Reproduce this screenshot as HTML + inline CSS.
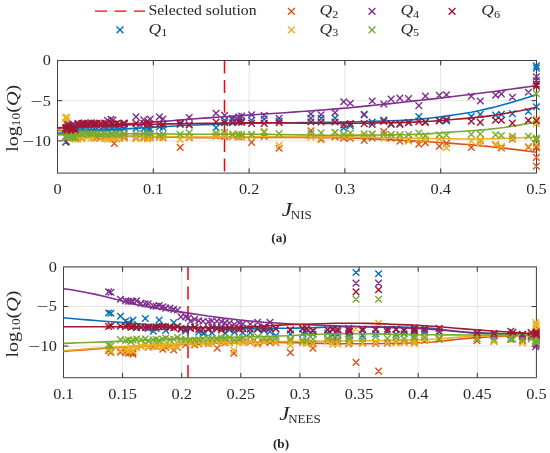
<!DOCTYPE html>
<html><head><meta charset="utf-8"><title>Figure</title>
<style>
html,body{margin:0;padding:0;background:#fff}
svg{display:block}
text{font-family:"Liberation Serif","DejaVu Serif",serif;fill:#262626}
</style></head><body>
<svg width="550" height="453" viewBox="0 0 550 453">
<rect width="550" height="453" fill="#ffffff"/>
<g font-size="14.6">
<path d="M95 11.2H145" stroke="#ff0000" stroke-width="1.3" stroke-dasharray="12 7.5" fill="none"/>
<text x="148.6" y="15.2" font-size="15.2" textLength="108" lengthAdjust="spacingAndGlyphs">Selected solution</text>
<path d="M116.6 26.4l6.8 6.8m0 -6.8l-6.8 6.8" stroke="#0072BD" stroke-width="1.4" fill="none"/>
<text transform="translate(148.5 33.6) scale(1.13 1)" font-size="15.5"><tspan font-style="italic">Q</tspan><tspan font-size="10.8" dy="2.6">1</tspan></text>
<path d="M288.0 8.0l6.8 6.8m0 -6.8l-6.8 6.8" stroke="#D95319" stroke-width="1.4" fill="none"/>
<text transform="translate(319.6 15.2) scale(1.13 1)" font-size="15.5"><tspan font-style="italic">Q</tspan><tspan font-size="10.8" dy="2.6">2</tspan></text>
<path d="M288.0 26.4l6.8 6.8m0 -6.8l-6.8 6.8" stroke="#EDB120" stroke-width="1.4" fill="none"/>
<text transform="translate(319.6 33.6) scale(1.13 1)" font-size="15.5"><tspan font-style="italic">Q</tspan><tspan font-size="10.8" dy="2.6">3</tspan></text>
<path d="M368.6 8.0l6.8 6.8m0 -6.8l-6.8 6.8" stroke="#7E2F8E" stroke-width="1.4" fill="none"/>
<text transform="translate(400.4 15.2) scale(1.13 1)" font-size="15.5"><tspan font-style="italic">Q</tspan><tspan font-size="10.8" dy="2.6">4</tspan></text>
<path d="M368.6 26.4l6.8 6.8m0 -6.8l-6.8 6.8" stroke="#77AC30" stroke-width="1.4" fill="none"/>
<text transform="translate(400.4 33.6) scale(1.13 1)" font-size="15.5"><tspan font-style="italic">Q</tspan><tspan font-size="10.8" dy="2.6">5</tspan></text>
<path d="M448.7 8.0l6.8 6.8m0 -6.8l-6.8 6.8" stroke="#A2142F" stroke-width="1.4" fill="none"/>
<text transform="translate(481.3 15.2) scale(1.13 1)" font-size="15.5"><tspan font-style="italic">Q</tspan><tspan font-size="10.8" dy="2.6">6</tspan></text>
<path d="M57.5 60.5V173.1M153.3 60.5V173.1M249.1 60.5V173.1M344.9 60.5V173.1M440.7 60.5V173.1M536.5 60.5V173.1M57.5 60.5H536.5M57.5 100.7H536.5M57.5 140.9H536.5" stroke="#e4e4e4" stroke-width="1" fill="none"/>
<clipPath id="ca"><rect x="53.5" y="56.5" width="487.0" height="120.6"/></clipPath>
<path d="M224.5 60.5V173.1" stroke="#ff0000" stroke-width="1.5" stroke-dasharray="13 6.6" fill="none"/>
<path d="M153.3 173.1v-4.8M153.3 60.5v4.8M249.1 173.1v-4.8M249.1 60.5v4.8M344.9 173.1v-4.8M344.9 60.5v4.8M440.7 173.1v-4.8M440.7 60.5v4.8M57.5 100.7h4.8M536.5 100.7h-4.8M57.5 140.9h4.8M536.5 140.9h-4.8" stroke="#333333" stroke-width="1" fill="none"/><rect x="57.5" y="60.5" width="479.0" height="112.6" fill="none" stroke="#404040" stroke-width="1"/>
<g clip-path="url(#ca)">
<path d="M62.3 127.4l6.6 6.6m0 -6.6l-6.6 6.6M63.0 127.4l6.6 6.6m0 -6.6l-6.6 6.6M63.7 128.9l6.6 6.6m0 -6.6l-6.6 6.6M64.5 128.7l6.6 6.6m0 -6.6l-6.6 6.6M65.3 127.1l6.6 6.6m0 -6.6l-6.6 6.6M66.2 128.2l6.6 6.6m0 -6.6l-6.6 6.6M67.2 126.8l6.6 6.6m0 -6.6l-6.6 6.6M68.2 126.6l6.6 6.6m0 -6.6l-6.6 6.6M69.5 125.9l6.6 6.6m0 -6.6l-6.6 6.6M70.9 126.7l6.6 6.6m0 -6.6l-6.6 6.6M72.1 128.8l6.6 6.6m0 -6.6l-6.6 6.6M74.7 124.4l6.6 6.6m0 -6.6l-6.6 6.6M78.5 125.2l6.6 6.6m0 -6.6l-6.6 6.6M81.1 124.9l6.6 6.6m0 -6.6l-6.6 6.6M84.5 125.5l6.6 6.6m0 -6.6l-6.6 6.6M87.7 125.4l6.6 6.6m0 -6.6l-6.6 6.6M90.8 125.5l6.6 6.6m0 -6.6l-6.6 6.6M93.7 125.4l6.6 6.6m0 -6.6l-6.6 6.6M97.4 125.4l6.6 6.6m0 -6.6l-6.6 6.6M101.3 125.0l6.6 6.6m0 -6.6l-6.6 6.6M104.2 124.8l6.6 6.6m0 -6.6l-6.6 6.6M107.6 125.0l6.6 6.6m0 -6.6l-6.6 6.6M109.7 124.7l6.6 6.6m0 -6.6l-6.6 6.6M113.1 125.1l6.6 6.6m0 -6.6l-6.6 6.6M116.4 125.7l6.6 6.6m0 -6.6l-6.6 6.6M120.4 124.9l6.6 6.6m0 -6.6l-6.6 6.6M121.1 125.3l6.6 6.6m0 -6.6l-6.6 6.6M132.7 125.2l6.6 6.6m0 -6.6l-6.6 6.6M140.5 125.7l6.6 6.6m0 -6.6l-6.6 6.6M144.3 125.1l6.6 6.6m0 -6.6l-6.6 6.6M146.9 125.9l6.6 6.6m0 -6.6l-6.6 6.6M156.1 123.7l6.6 6.6m0 -6.6l-6.6 6.6M159.7 124.2l6.6 6.6m0 -6.6l-6.6 6.6M176.9 121.2l6.6 6.6m0 -6.6l-6.6 6.6M185.9 121.7l6.6 6.6m0 -6.6l-6.6 6.6M212.8 124.5l6.6 6.6m0 -6.6l-6.6 6.6M221.3 117.2l6.6 6.6m0 -6.6l-6.6 6.6M229.3 116.5l6.6 6.6m0 -6.6l-6.6 6.6M235.4 117.2l6.6 6.6m0 -6.6l-6.6 6.6M238.3 117.7l6.6 6.6m0 -6.6l-6.6 6.6M248.3 117.2l6.6 6.6m0 -6.6l-6.6 6.6M260.9 115.7l6.6 6.6m0 -6.6l-6.6 6.6M275.8 117.7l6.6 6.6m0 -6.6l-6.6 6.6M307.6 115.0l6.6 6.6m0 -6.6l-6.6 6.6M317.8 115.0l6.6 6.6m0 -6.6l-6.6 6.6M331.7 114.8l6.6 6.6m0 -6.6l-6.6 6.6M340.4 124.7l6.6 6.6m0 -6.6l-6.6 6.6M347.0 122.5l6.6 6.6m0 -6.6l-6.6 6.6M360.9 111.6l6.6 6.6m0 -6.6l-6.6 6.6M368.9 118.7l6.6 6.6m0 -6.6l-6.6 6.6M380.5 116.7l6.6 6.6m0 -6.6l-6.6 6.6M387.8 121.1l6.6 6.6m0 -6.6l-6.6 6.6M396.6 121.1l6.6 6.6m0 -6.6l-6.6 6.6M405.3 118.9l6.6 6.6m0 -6.6l-6.6 6.6M415.5 113.2l6.6 6.6m0 -6.6l-6.6 6.6M422.1 118.7l6.6 6.6m0 -6.6l-6.6 6.6M436.0 116.9l6.6 6.6m0 -6.6l-6.6 6.6M443.2 117.6l6.6 6.6m0 -6.6l-6.6 6.6M468.0 113.2l6.6 6.6m0 -6.6l-6.6 6.6M477.0 111.1l6.6 6.6m0 -6.6l-6.6 6.6M492.3 111.8l6.6 6.6m0 -6.6l-6.6 6.6M498.1 111.1l6.6 6.6m0 -6.6l-6.6 6.6M509.1 110.3l6.6 6.6m0 -6.6l-6.6 6.6M525.1 108.2l6.6 6.6m0 -6.6l-6.6 6.6M533.1 62.6l6.6 6.6m0 -6.6l-6.6 6.6M533.1 64.8l6.6 6.6m0 -6.6l-6.6 6.6M533.1 103.4l6.6 6.6m0 -6.6l-6.6 6.6" stroke="#0072BD" stroke-width="1.4" fill="none"/>
<path d="M57.5 133.2 L65.6 132.7 L73.7 132.1 L81.9 131.6 L90.0 131.1 L98.1 130.5 L106.2 130.0 L114.3 129.5 L122.4 129.0 L130.6 128.6 L138.7 128.1 L146.8 127.6 L154.9 127.1 L163.0 126.6 L171.2 126.2 L179.3 125.7 L187.4 125.3 L195.5 125.0 L203.6 124.7 L211.8 124.4 L219.9 124.1 L228.0 123.9 L236.1 123.6 L244.2 123.4 L252.3 123.2 L260.5 123.1 L268.6 122.9 L276.7 122.8 L284.8 122.7 L292.9 122.7 L301.1 122.6 L309.2 122.5 L317.3 122.4 L325.4 122.3 L333.5 122.2 L341.7 122.1 L349.8 121.9 L357.9 121.8 L366.0 121.6 L374.1 121.3 L382.2 121.1 L390.4 120.8 L398.5 120.5 L406.6 120.1 L414.7 119.6 L422.8 118.9 L431.0 118.0 L439.1 117.0 L447.2 115.9 L455.3 114.8 L463.4 113.5 L471.6 112.2 L479.7 110.5 L487.8 108.6 L495.9 106.7 L504.0 104.5 L512.1 102.2 L520.3 99.8 L528.4 97.2 L536.5 94.4" stroke="#0072BD" stroke-width="1.6" fill="none" stroke-linejoin="round"/>
<path d="M62.3 119.7l6.6 6.6m0 -6.6l-6.6 6.6M63.0 120.3l6.6 6.6m0 -6.6l-6.6 6.6M63.7 132.5l6.6 6.6m0 -6.6l-6.6 6.6M64.5 132.8l6.6 6.6m0 -6.6l-6.6 6.6M65.3 132.1l6.6 6.6m0 -6.6l-6.6 6.6M66.2 134.3l6.6 6.6m0 -6.6l-6.6 6.6M67.2 132.1l6.6 6.6m0 -6.6l-6.6 6.6M68.2 133.7l6.6 6.6m0 -6.6l-6.6 6.6M69.5 133.8l6.6 6.6m0 -6.6l-6.6 6.6M70.9 132.1l6.6 6.6m0 -6.6l-6.6 6.6M72.1 132.6l6.6 6.6m0 -6.6l-6.6 6.6M74.7 133.1l6.6 6.6m0 -6.6l-6.6 6.6M78.5 134.9l6.6 6.6m0 -6.6l-6.6 6.6M81.1 132.1l6.6 6.6m0 -6.6l-6.6 6.6M84.5 132.0l6.6 6.6m0 -6.6l-6.6 6.6M87.7 132.0l6.6 6.6m0 -6.6l-6.6 6.6M90.8 134.8l6.6 6.6m0 -6.6l-6.6 6.6M93.7 133.7l6.6 6.6m0 -6.6l-6.6 6.6M97.4 133.6l6.6 6.6m0 -6.6l-6.6 6.6M101.3 133.6l6.6 6.6m0 -6.6l-6.6 6.6M104.2 133.3l6.6 6.6m0 -6.6l-6.6 6.6M107.6 132.9l6.6 6.6m0 -6.6l-6.6 6.6M109.7 135.7l6.6 6.6m0 -6.6l-6.6 6.6M113.1 135.3l6.6 6.6m0 -6.6l-6.6 6.6M116.4 131.6l6.6 6.6m0 -6.6l-6.6 6.6M120.4 133.9l6.6 6.6m0 -6.6l-6.6 6.6M111.0 140.2l6.6 6.6m0 -6.6l-6.6 6.6M121.1 133.5l6.6 6.6m0 -6.6l-6.6 6.6M132.7 134.2l6.6 6.6m0 -6.6l-6.6 6.6M140.5 133.7l6.6 6.6m0 -6.6l-6.6 6.6M144.3 134.3l6.6 6.6m0 -6.6l-6.6 6.6M146.9 133.3l6.6 6.6m0 -6.6l-6.6 6.6M156.1 133.7l6.6 6.6m0 -6.6l-6.6 6.6M159.7 134.5l6.6 6.6m0 -6.6l-6.6 6.6M176.9 144.1l6.6 6.6m0 -6.6l-6.6 6.6M185.9 134.3l6.6 6.6m0 -6.6l-6.6 6.6M212.8 132.7l6.6 6.6m0 -6.6l-6.6 6.6M221.3 133.2l6.6 6.6m0 -6.6l-6.6 6.6M229.3 133.1l6.6 6.6m0 -6.6l-6.6 6.6M235.4 133.7l6.6 6.6m0 -6.6l-6.6 6.6M238.3 133.7l6.6 6.6m0 -6.6l-6.6 6.6M248.3 139.1l6.6 6.6m0 -6.6l-6.6 6.6M260.9 133.2l6.6 6.6m0 -6.6l-6.6 6.6M275.8 144.9l6.6 6.6m0 -6.6l-6.6 6.6M307.6 127.4l6.6 6.6m0 -6.6l-6.6 6.6M317.8 136.2l6.6 6.6m0 -6.6l-6.6 6.6M331.7 133.7l6.6 6.6m0 -6.6l-6.6 6.6M340.4 134.9l6.6 6.6m0 -6.6l-6.6 6.6M347.0 134.9l6.6 6.6m0 -6.6l-6.6 6.6M360.9 137.1l6.6 6.6m0 -6.6l-6.6 6.6M368.9 134.7l6.6 6.6m0 -6.6l-6.6 6.6M380.5 128.3l6.6 6.6m0 -6.6l-6.6 6.6M387.8 134.9l6.6 6.6m0 -6.6l-6.6 6.6M396.6 137.8l6.6 6.6m0 -6.6l-6.6 6.6M405.3 136.4l6.6 6.6m0 -6.6l-6.6 6.6M415.5 140.9l6.6 6.6m0 -6.6l-6.6 6.6M422.1 139.4l6.6 6.6m0 -6.6l-6.6 6.6M436.0 143.0l6.6 6.6m0 -6.6l-6.6 6.6M443.2 140.1l6.6 6.6m0 -6.6l-6.6 6.6M468.0 144.2l6.6 6.6m0 -6.6l-6.6 6.6M477.0 137.3l6.6 6.6m0 -6.6l-6.6 6.6M492.3 141.7l6.6 6.6m0 -6.6l-6.6 6.6M498.1 144.6l6.6 6.6m0 -6.6l-6.6 6.6M509.1 135.9l6.6 6.6m0 -6.6l-6.6 6.6M525.1 143.9l6.6 6.6m0 -6.6l-6.6 6.6M533.1 154.1l6.6 6.6m0 -6.6l-6.6 6.6M533.1 162.8l6.6 6.6m0 -6.6l-6.6 6.6M533.1 143.1l6.6 6.6m0 -6.6l-6.6 6.6M533.1 144.7l6.6 6.6m0 -6.6l-6.6 6.6" stroke="#D95319" stroke-width="1.4" fill="none"/>
<path d="M57.5 130.1 L65.6 131.7 L73.7 133.1 L81.9 134.0 L90.0 134.6 L98.1 135.1 L106.2 135.5 L114.3 135.9 L122.4 136.2 L130.6 136.4 L138.7 136.6 L146.8 136.8 L154.9 137.0 L163.0 137.2 L171.2 137.3 L179.3 137.5 L187.4 137.5 L195.5 137.6 L203.6 137.6 L211.8 137.6 L219.9 137.6 L228.0 137.5 L236.1 137.5 L244.2 137.4 L252.3 137.4 L260.5 137.4 L268.6 137.4 L276.7 137.4 L284.8 137.4 L292.9 137.5 L301.1 137.5 L309.2 137.6 L317.3 137.6 L325.4 137.7 L333.5 137.8 L341.7 137.9 L349.8 138.1 L357.9 138.3 L366.0 138.6 L374.1 139.0 L382.2 139.4 L390.4 139.8 L398.5 140.2 L406.6 140.7 L414.7 141.1 L422.8 141.5 L431.0 142.0 L439.1 142.5 L447.2 143.0 L455.3 143.6 L463.4 144.2 L471.6 144.8 L479.7 145.6 L487.8 146.4 L495.9 147.2 L504.0 148.1 L512.1 149.1 L520.3 150.1 L528.4 151.2 L536.5 152.3" stroke="#D95319" stroke-width="1.6" fill="none" stroke-linejoin="round"/>
<path d="M62.3 114.2l6.6 6.6m0 -6.6l-6.6 6.6M63.0 115.3l6.6 6.6m0 -6.6l-6.6 6.6M63.7 117.7l6.6 6.6m0 -6.6l-6.6 6.6M64.5 134.8l6.6 6.6m0 -6.6l-6.6 6.6M65.3 134.6l6.6 6.6m0 -6.6l-6.6 6.6M66.2 133.4l6.6 6.6m0 -6.6l-6.6 6.6M67.2 133.8l6.6 6.6m0 -6.6l-6.6 6.6M68.2 133.6l6.6 6.6m0 -6.6l-6.6 6.6M69.5 134.3l6.6 6.6m0 -6.6l-6.6 6.6M70.9 134.8l6.6 6.6m0 -6.6l-6.6 6.6M72.1 135.9l6.6 6.6m0 -6.6l-6.6 6.6M63.5 113.9l6.6 6.6m0 -6.6l-6.6 6.6M74.7 136.0l6.6 6.6m0 -6.6l-6.6 6.6M78.5 135.7l6.6 6.6m0 -6.6l-6.6 6.6M81.1 132.4l6.6 6.6m0 -6.6l-6.6 6.6M84.5 133.2l6.6 6.6m0 -6.6l-6.6 6.6M87.7 135.2l6.6 6.6m0 -6.6l-6.6 6.6M90.8 134.7l6.6 6.6m0 -6.6l-6.6 6.6M93.7 131.0l6.6 6.6m0 -6.6l-6.6 6.6M97.4 135.2l6.6 6.6m0 -6.6l-6.6 6.6M101.3 135.4l6.6 6.6m0 -6.6l-6.6 6.6M104.2 135.9l6.6 6.6m0 -6.6l-6.6 6.6M107.6 135.1l6.6 6.6m0 -6.6l-6.6 6.6M109.7 135.4l6.6 6.6m0 -6.6l-6.6 6.6M113.1 134.9l6.6 6.6m0 -6.6l-6.6 6.6M116.4 134.8l6.6 6.6m0 -6.6l-6.6 6.6M120.4 131.2l6.6 6.6m0 -6.6l-6.6 6.6M121.1 135.3l6.6 6.6m0 -6.6l-6.6 6.6M132.7 135.3l6.6 6.6m0 -6.6l-6.6 6.6M140.5 135.3l6.6 6.6m0 -6.6l-6.6 6.6M144.3 135.7l6.6 6.6m0 -6.6l-6.6 6.6M146.9 134.9l6.6 6.6m0 -6.6l-6.6 6.6M156.1 134.2l6.6 6.6m0 -6.6l-6.6 6.6M159.7 133.7l6.6 6.6m0 -6.6l-6.6 6.6M176.9 136.1l6.6 6.6m0 -6.6l-6.6 6.6M185.9 133.7l6.6 6.6m0 -6.6l-6.6 6.6M212.8 131.8l6.6 6.6m0 -6.6l-6.6 6.6M221.3 131.1l6.6 6.6m0 -6.6l-6.6 6.6M229.3 132.5l6.6 6.6m0 -6.6l-6.6 6.6M235.4 132.7l6.6 6.6m0 -6.6l-6.6 6.6M238.3 133.1l6.6 6.6m0 -6.6l-6.6 6.6M248.3 132.7l6.6 6.6m0 -6.6l-6.6 6.6M260.9 128.1l6.6 6.6m0 -6.6l-6.6 6.6M275.8 142.0l6.6 6.6m0 -6.6l-6.6 6.6M307.6 134.0l6.6 6.6m0 -6.6l-6.6 6.6M317.8 134.7l6.6 6.6m0 -6.6l-6.6 6.6M331.7 129.6l6.6 6.6m0 -6.6l-6.6 6.6M340.4 133.2l6.6 6.6m0 -6.6l-6.6 6.6M347.0 133.4l6.6 6.6m0 -6.6l-6.6 6.6M360.9 132.7l6.6 6.6m0 -6.6l-6.6 6.6M368.9 131.3l6.6 6.6m0 -6.6l-6.6 6.6M380.5 134.9l6.6 6.6m0 -6.6l-6.6 6.6M387.8 131.3l6.6 6.6m0 -6.6l-6.6 6.6M396.6 131.3l6.6 6.6m0 -6.6l-6.6 6.6M405.3 137.8l6.6 6.6m0 -6.6l-6.6 6.6M415.5 135.7l6.6 6.6m0 -6.6l-6.6 6.6M422.1 136.5l6.6 6.6m0 -6.6l-6.6 6.6M436.0 135.7l6.6 6.6m0 -6.6l-6.6 6.6M443.2 144.5l6.6 6.6m0 -6.6l-6.6 6.6M468.0 138.0l6.6 6.6m0 -6.6l-6.6 6.6M477.0 136.6l6.6 6.6m0 -6.6l-6.6 6.6M477.0 139.9l6.6 6.6m0 -6.6l-6.6 6.6M492.3 141.0l6.6 6.6m0 -6.6l-6.6 6.6M498.1 143.1l6.6 6.6m0 -6.6l-6.6 6.6M509.1 135.1l6.6 6.6m0 -6.6l-6.6 6.6M525.1 143.1l6.6 6.6m0 -6.6l-6.6 6.6M533.1 115.7l6.6 6.6m0 -6.6l-6.6 6.6M533.1 120.5l6.6 6.6m0 -6.6l-6.6 6.6M533.1 141.0l6.6 6.6m0 -6.6l-6.6 6.6M533.1 117.7l6.6 6.6m0 -6.6l-6.6 6.6" stroke="#EDB120" stroke-width="1.4" fill="none"/>
<path d="M57.5 129.0 L65.6 130.8 L73.7 132.4 L81.9 133.4 L90.0 134.0 L98.1 134.6 L106.2 135.0 L114.3 135.4 L122.4 135.7 L130.6 135.9 L138.7 136.1 L146.8 136.3 L154.9 136.5 L163.0 136.6 L171.2 136.8 L179.3 136.9 L187.4 137.0 L195.5 137.0 L203.6 137.0 L211.8 137.0 L219.9 137.0 L228.0 136.9 L236.1 136.9 L244.2 136.8 L252.3 136.8 L260.5 136.8 L268.6 136.8 L276.7 136.8 L284.8 136.8 L292.9 136.8 L301.1 136.8 L309.2 136.8 L317.3 136.9 L325.4 136.9 L333.5 136.9 L341.7 136.9 L349.8 137.0 L357.9 137.1 L366.0 137.2 L374.1 137.4 L382.2 137.6 L390.4 137.7 L398.5 137.9 L406.6 138.1 L414.7 138.2 L422.8 138.3 L431.0 138.5 L439.1 138.7 L447.2 138.8 L455.3 138.9 L463.4 139.0 L471.6 139.0 L479.7 138.9 L487.8 138.8 L495.9 138.6 L504.0 138.4 L512.1 138.1 L520.3 137.8 L528.4 137.4 L536.5 137.0" stroke="#EDB120" stroke-width="1.6" fill="none" stroke-linejoin="round"/>
<path d="M62.3 139.0l6.6 6.6m0 -6.6l-6.6 6.6M63.0 138.1l6.6 6.6m0 -6.6l-6.6 6.6M63.7 124.3l6.6 6.6m0 -6.6l-6.6 6.6M64.5 121.2l6.6 6.6m0 -6.6l-6.6 6.6M65.3 124.5l6.6 6.6m0 -6.6l-6.6 6.6M66.2 124.5l6.6 6.6m0 -6.6l-6.6 6.6M67.2 124.6l6.6 6.6m0 -6.6l-6.6 6.6M68.2 122.5l6.6 6.6m0 -6.6l-6.6 6.6M69.5 120.7l6.6 6.6m0 -6.6l-6.6 6.6M70.9 121.5l6.6 6.6m0 -6.6l-6.6 6.6M72.1 123.9l6.6 6.6m0 -6.6l-6.6 6.6M62.7 138.6l6.6 6.6m0 -6.6l-6.6 6.6M74.7 121.7l6.6 6.6m0 -6.6l-6.6 6.6M78.5 120.7l6.6 6.6m0 -6.6l-6.6 6.6M81.1 121.5l6.6 6.6m0 -6.6l-6.6 6.6M84.5 121.0l6.6 6.6m0 -6.6l-6.6 6.6M87.7 121.6l6.6 6.6m0 -6.6l-6.6 6.6M90.8 119.7l6.6 6.6m0 -6.6l-6.6 6.6M93.7 120.0l6.6 6.6m0 -6.6l-6.6 6.6M97.4 121.1l6.6 6.6m0 -6.6l-6.6 6.6M101.3 122.5l6.6 6.6m0 -6.6l-6.6 6.6M104.2 117.0l6.6 6.6m0 -6.6l-6.6 6.6M107.6 116.1l6.6 6.6m0 -6.6l-6.6 6.6M109.7 116.7l6.6 6.6m0 -6.6l-6.6 6.6M113.1 120.6l6.6 6.6m0 -6.6l-6.6 6.6M116.4 121.0l6.6 6.6m0 -6.6l-6.6 6.6M120.4 120.9l6.6 6.6m0 -6.6l-6.6 6.6M121.1 120.7l6.6 6.6m0 -6.6l-6.6 6.6M132.7 113.5l6.6 6.6m0 -6.6l-6.6 6.6M140.5 116.4l6.6 6.6m0 -6.6l-6.6 6.6M144.3 117.7l6.6 6.6m0 -6.6l-6.6 6.6M146.9 115.7l6.6 6.6m0 -6.6l-6.6 6.6M156.1 113.5l6.6 6.6m0 -6.6l-6.6 6.6M159.7 115.7l6.6 6.6m0 -6.6l-6.6 6.6M176.9 119.7l6.6 6.6m0 -6.6l-6.6 6.6M185.9 114.2l6.6 6.6m0 -6.6l-6.6 6.6M212.8 109.9l6.6 6.6m0 -6.6l-6.6 6.6M221.3 112.1l6.6 6.6m0 -6.6l-6.6 6.6M229.3 115.0l6.6 6.6m0 -6.6l-6.6 6.6M235.4 113.6l6.6 6.6m0 -6.6l-6.6 6.6M238.3 112.8l6.6 6.6m0 -6.6l-6.6 6.6M248.3 111.4l6.6 6.6m0 -6.6l-6.6 6.6M260.9 112.1l6.6 6.6m0 -6.6l-6.6 6.6M275.8 115.0l6.6 6.6m0 -6.6l-6.6 6.6M307.6 110.7l6.6 6.6m0 -6.6l-6.6 6.6M317.8 111.4l6.6 6.6m0 -6.6l-6.6 6.6M331.7 109.5l6.6 6.6m0 -6.6l-6.6 6.6M340.4 98.4l6.6 6.6m0 -6.6l-6.6 6.6M347.0 99.9l6.6 6.6m0 -6.6l-6.6 6.6M360.9 110.9l6.6 6.6m0 -6.6l-6.6 6.6M368.9 97.7l6.6 6.6m0 -6.6l-6.6 6.6M380.5 100.7l6.6 6.6m0 -6.6l-6.6 6.6M387.8 95.8l6.6 6.6m0 -6.6l-6.6 6.6M396.6 94.8l6.6 6.6m0 -6.6l-6.6 6.6M405.3 95.3l6.6 6.6m0 -6.6l-6.6 6.6M415.5 102.3l6.6 6.6m0 -6.6l-6.6 6.6M422.1 92.8l6.6 6.6m0 -6.6l-6.6 6.6M436.0 92.1l6.6 6.6m0 -6.6l-6.6 6.6M443.2 91.4l6.6 6.6m0 -6.6l-6.6 6.6M468.0 93.0l6.6 6.6m0 -6.6l-6.6 6.6M477.0 97.7l6.6 6.6m0 -6.6l-6.6 6.6M492.3 91.8l6.6 6.6m0 -6.6l-6.6 6.6M498.1 90.7l6.6 6.6m0 -6.6l-6.6 6.6M509.1 94.0l6.6 6.6m0 -6.6l-6.6 6.6M525.1 88.9l6.6 6.6m0 -6.6l-6.6 6.6M533.1 73.6l6.6 6.6m0 -6.6l-6.6 6.6M533.1 77.2l6.6 6.6m0 -6.6l-6.6 6.6" stroke="#7E2F8E" stroke-width="1.4" fill="none"/>
<path d="M57.5 128.0 L65.6 127.5 L73.7 126.9 L81.9 126.4 L90.0 125.9 L98.1 125.4 L106.2 124.9 L114.3 124.4 L122.4 124.0 L130.6 123.5 L138.7 123.0 L146.8 122.5 L154.9 121.9 L163.0 121.4 L171.2 120.7 L179.3 120.1 L187.4 119.4 L195.5 118.7 L203.6 118.1 L211.8 117.6 L219.9 117.0 L228.0 116.5 L236.1 115.9 L244.2 115.4 L252.3 114.9 L260.5 114.3 L268.6 113.8 L276.7 113.2 L284.8 112.7 L292.9 112.1 L301.1 111.5 L309.2 111.0 L317.3 110.4 L325.4 109.8 L333.5 109.1 L341.7 108.4 L349.8 107.7 L357.9 106.9 L366.0 106.1 L374.1 105.3 L382.2 104.4 L390.4 103.6 L398.5 102.7 L406.6 101.8 L414.7 100.9 L422.8 100.0 L431.0 99.1 L439.1 98.2 L447.2 97.2 L455.3 96.3 L463.4 95.3 L471.6 94.3 L479.7 93.3 L487.8 92.2 L495.9 91.2 L504.0 90.1 L512.1 89.0 L520.3 87.9 L528.4 86.7 L536.5 85.6" stroke="#7E2F8E" stroke-width="1.6" fill="none" stroke-linejoin="round"/>
<path d="M62.3 134.2l6.6 6.6m0 -6.6l-6.6 6.6M63.0 132.8l6.6 6.6m0 -6.6l-6.6 6.6M63.7 134.1l6.6 6.6m0 -6.6l-6.6 6.6M64.5 132.0l6.6 6.6m0 -6.6l-6.6 6.6M65.3 132.8l6.6 6.6m0 -6.6l-6.6 6.6M66.2 134.0l6.6 6.6m0 -6.6l-6.6 6.6M67.2 133.1l6.6 6.6m0 -6.6l-6.6 6.6M68.2 133.3l6.6 6.6m0 -6.6l-6.6 6.6M69.5 134.1l6.6 6.6m0 -6.6l-6.6 6.6M70.9 133.6l6.6 6.6m0 -6.6l-6.6 6.6M72.1 134.4l6.6 6.6m0 -6.6l-6.6 6.6M74.7 130.5l6.6 6.6m0 -6.6l-6.6 6.6M78.5 130.8l6.6 6.6m0 -6.6l-6.6 6.6M81.1 129.7l6.6 6.6m0 -6.6l-6.6 6.6M84.5 130.6l6.6 6.6m0 -6.6l-6.6 6.6M87.7 130.4l6.6 6.6m0 -6.6l-6.6 6.6M90.8 130.0l6.6 6.6m0 -6.6l-6.6 6.6M93.7 130.7l6.6 6.6m0 -6.6l-6.6 6.6M97.4 130.7l6.6 6.6m0 -6.6l-6.6 6.6M101.3 130.5l6.6 6.6m0 -6.6l-6.6 6.6M104.2 130.9l6.6 6.6m0 -6.6l-6.6 6.6M107.6 130.7l6.6 6.6m0 -6.6l-6.6 6.6M109.7 130.8l6.6 6.6m0 -6.6l-6.6 6.6M113.1 130.8l6.6 6.6m0 -6.6l-6.6 6.6M116.4 131.1l6.6 6.6m0 -6.6l-6.6 6.6M120.4 130.9l6.6 6.6m0 -6.6l-6.6 6.6M121.1 130.7l6.6 6.6m0 -6.6l-6.6 6.6M132.7 130.7l6.6 6.6m0 -6.6l-6.6 6.6M140.5 130.2l6.6 6.6m0 -6.6l-6.6 6.6M144.3 131.2l6.6 6.6m0 -6.6l-6.6 6.6M146.9 129.9l6.6 6.6m0 -6.6l-6.6 6.6M156.1 131.7l6.6 6.6m0 -6.6l-6.6 6.6M159.7 131.3l6.6 6.6m0 -6.6l-6.6 6.6M176.9 131.0l6.6 6.6m0 -6.6l-6.6 6.6M185.9 129.5l6.6 6.6m0 -6.6l-6.6 6.6M212.8 129.6l6.6 6.6m0 -6.6l-6.6 6.6M221.3 128.9l6.6 6.6m0 -6.6l-6.6 6.6M229.3 130.8l6.6 6.6m0 -6.6l-6.6 6.6M235.4 131.1l6.6 6.6m0 -6.6l-6.6 6.6M238.3 131.3l6.6 6.6m0 -6.6l-6.6 6.6M248.3 131.1l6.6 6.6m0 -6.6l-6.6 6.6M260.9 128.9l6.6 6.6m0 -6.6l-6.6 6.6M275.8 130.3l6.6 6.6m0 -6.6l-6.6 6.6M307.6 130.3l6.6 6.6m0 -6.6l-6.6 6.6M317.8 129.6l6.6 6.6m0 -6.6l-6.6 6.6M331.7 128.9l6.6 6.6m0 -6.6l-6.6 6.6M340.4 131.2l6.6 6.6m0 -6.6l-6.6 6.6M347.0 129.8l6.6 6.6m0 -6.6l-6.6 6.6M360.9 130.5l6.6 6.6m0 -6.6l-6.6 6.6M368.9 130.5l6.6 6.6m0 -6.6l-6.6 6.6M380.5 131.3l6.6 6.6m0 -6.6l-6.6 6.6M387.8 131.3l6.6 6.6m0 -6.6l-6.6 6.6M396.6 132.0l6.6 6.6m0 -6.6l-6.6 6.6M405.3 131.2l6.6 6.6m0 -6.6l-6.6 6.6M415.5 129.7l6.6 6.6m0 -6.6l-6.6 6.6M422.1 132.5l6.6 6.6m0 -6.6l-6.6 6.6M436.0 131.5l6.6 6.6m0 -6.6l-6.6 6.6M443.2 131.9l6.6 6.6m0 -6.6l-6.6 6.6M468.0 131.1l6.6 6.6m0 -6.6l-6.6 6.6M477.0 130.7l6.6 6.6m0 -6.6l-6.6 6.6M492.3 131.5l6.6 6.6m0 -6.6l-6.6 6.6M498.1 132.2l6.6 6.6m0 -6.6l-6.6 6.6M509.1 132.9l6.6 6.6m0 -6.6l-6.6 6.6M525.1 132.9l6.6 6.6m0 -6.6l-6.6 6.6M533.1 90.3l6.6 6.6m0 -6.6l-6.6 6.6M533.1 135.9l6.6 6.6m0 -6.6l-6.6 6.6M533.1 134.7l6.6 6.6m0 -6.6l-6.6 6.6M533.1 136.7l6.6 6.6m0 -6.6l-6.6 6.6" stroke="#77AC30" stroke-width="1.4" fill="none"/>
<path d="M57.5 134.9 L65.6 134.7 L73.7 134.5 L81.9 134.3 L90.0 134.1 L98.1 134.0 L106.2 133.9 L114.3 133.8 L122.4 133.7 L130.6 133.7 L138.7 133.7 L146.8 133.8 L154.9 133.8 L163.0 133.9 L171.2 134.0 L179.3 134.1 L187.4 134.1 L195.5 134.2 L203.6 134.2 L211.8 134.2 L219.9 134.3 L228.0 134.3 L236.1 134.3 L244.2 134.3 L252.3 134.3 L260.5 134.4 L268.6 134.4 L276.7 134.5 L284.8 134.6 L292.9 134.7 L301.1 134.9 L309.2 135.0 L317.3 135.1 L325.4 135.2 L333.5 135.2 L341.7 135.2 L349.8 135.2 L357.9 135.1 L366.0 135.1 L374.1 135.0 L382.2 135.0 L390.4 134.9 L398.5 134.8 L406.6 134.7 L414.7 134.4 L422.8 134.1 L431.0 133.6 L439.1 133.0 L447.2 132.4 L455.3 131.8 L463.4 131.2 L471.6 130.7 L479.7 130.1 L487.8 129.4 L495.9 128.5 L504.0 127.5 L512.1 126.3 L520.3 124.9 L528.4 123.4 L536.5 121.7" stroke="#77AC30" stroke-width="1.6" fill="none" stroke-linejoin="round"/>
<path d="M62.3 124.8l6.6 6.6m0 -6.6l-6.6 6.6M63.0 124.7l6.6 6.6m0 -6.6l-6.6 6.6M63.7 127.0l6.6 6.6m0 -6.6l-6.6 6.6M64.5 125.5l6.6 6.6m0 -6.6l-6.6 6.6M65.3 122.4l6.6 6.6m0 -6.6l-6.6 6.6M66.2 124.2l6.6 6.6m0 -6.6l-6.6 6.6M67.2 127.1l6.6 6.6m0 -6.6l-6.6 6.6M68.2 125.6l6.6 6.6m0 -6.6l-6.6 6.6M69.5 125.6l6.6 6.6m0 -6.6l-6.6 6.6M70.9 124.7l6.6 6.6m0 -6.6l-6.6 6.6M72.1 126.5l6.6 6.6m0 -6.6l-6.6 6.6M74.7 120.0l6.6 6.6m0 -6.6l-6.6 6.6M78.5 120.0l6.6 6.6m0 -6.6l-6.6 6.6M81.1 119.8l6.6 6.6m0 -6.6l-6.6 6.6M84.5 119.9l6.6 6.6m0 -6.6l-6.6 6.6M87.7 119.5l6.6 6.6m0 -6.6l-6.6 6.6M90.8 120.9l6.6 6.6m0 -6.6l-6.6 6.6M93.7 120.5l6.6 6.6m0 -6.6l-6.6 6.6M97.4 119.9l6.6 6.6m0 -6.6l-6.6 6.6M101.3 119.7l6.6 6.6m0 -6.6l-6.6 6.6M104.2 120.5l6.6 6.6m0 -6.6l-6.6 6.6M107.6 120.0l6.6 6.6m0 -6.6l-6.6 6.6M109.7 120.5l6.6 6.6m0 -6.6l-6.6 6.6M113.1 120.3l6.6 6.6m0 -6.6l-6.6 6.6M116.4 120.9l6.6 6.6m0 -6.6l-6.6 6.6M120.4 119.8l6.6 6.6m0 -6.6l-6.6 6.6M121.1 120.0l6.6 6.6m0 -6.6l-6.6 6.6M132.7 120.0l6.6 6.6m0 -6.6l-6.6 6.6M140.5 120.0l6.6 6.6m0 -6.6l-6.6 6.6M144.3 120.5l6.6 6.6m0 -6.6l-6.6 6.6M146.9 120.9l6.6 6.6m0 -6.6l-6.6 6.6M156.1 120.7l6.6 6.6m0 -6.6l-6.6 6.6M159.7 121.3l6.6 6.6m0 -6.6l-6.6 6.6M176.9 120.0l6.6 6.6m0 -6.6l-6.6 6.6M185.9 121.5l6.6 6.6m0 -6.6l-6.6 6.6M212.8 118.7l6.6 6.6m0 -6.6l-6.6 6.6M221.3 119.4l6.6 6.6m0 -6.6l-6.6 6.6M229.3 119.4l6.6 6.6m0 -6.6l-6.6 6.6M235.4 118.7l6.6 6.6m0 -6.6l-6.6 6.6M238.3 119.2l6.6 6.6m0 -6.6l-6.6 6.6M248.3 120.1l6.6 6.6m0 -6.6l-6.6 6.6M260.9 120.1l6.6 6.6m0 -6.6l-6.6 6.6M275.8 119.4l6.6 6.6m0 -6.6l-6.6 6.6M307.6 118.7l6.6 6.6m0 -6.6l-6.6 6.6M317.8 118.7l6.6 6.6m0 -6.6l-6.6 6.6M331.7 118.7l6.6 6.6m0 -6.6l-6.6 6.6M340.4 121.7l6.6 6.6m0 -6.6l-6.6 6.6M347.0 120.3l6.6 6.6m0 -6.6l-6.6 6.6M360.9 120.3l6.6 6.6m0 -6.6l-6.6 6.6M368.9 121.1l6.6 6.6m0 -6.6l-6.6 6.6M380.5 118.1l6.6 6.6m0 -6.6l-6.6 6.6M387.8 120.3l6.6 6.6m0 -6.6l-6.6 6.6M396.6 120.3l6.6 6.6m0 -6.6l-6.6 6.6M405.3 119.4l6.6 6.6m0 -6.6l-6.6 6.6M415.5 118.3l6.6 6.6m0 -6.6l-6.6 6.6M422.1 119.1l6.6 6.6m0 -6.6l-6.6 6.6M436.0 117.6l6.6 6.6m0 -6.6l-6.6 6.6M443.2 116.2l6.6 6.6m0 -6.6l-6.6 6.6M468.0 117.9l6.6 6.6m0 -6.6l-6.6 6.6M477.0 119.1l6.6 6.6m0 -6.6l-6.6 6.6M492.3 116.9l6.6 6.6m0 -6.6l-6.6 6.6M498.1 116.9l6.6 6.6m0 -6.6l-6.6 6.6M509.1 119.8l6.6 6.6m0 -6.6l-6.6 6.6M525.1 116.9l6.6 6.6m0 -6.6l-6.6 6.6M533.1 80.9l6.6 6.6m0 -6.6l-6.6 6.6M533.1 83.0l6.6 6.6m0 -6.6l-6.6 6.6M533.1 117.6l6.6 6.6m0 -6.6l-6.6 6.6" stroke="#A2142F" stroke-width="1.4" fill="none"/>
<path d="M57.5 127.9 L65.6 127.5 L73.7 127.0 L81.9 126.6 L90.0 126.3 L98.1 125.9 L106.2 125.6 L114.3 125.3 L122.4 125.0 L130.6 124.8 L138.7 124.6 L146.8 124.4 L154.9 124.2 L163.0 124.0 L171.2 123.9 L179.3 123.7 L187.4 123.6 L195.5 123.5 L203.6 123.4 L211.8 123.2 L219.9 123.1 L228.0 123.0 L236.1 123.0 L244.2 122.9 L252.3 122.8 L260.5 122.8 L268.6 122.8 L276.7 122.8 L284.8 122.9 L292.9 123.0 L301.1 123.1 L309.2 123.2 L317.3 123.3 L325.4 123.4 L333.5 123.4 L341.7 123.4 L349.8 123.3 L357.9 123.3 L366.0 123.2 L374.1 123.0 L382.2 122.9 L390.4 122.7 L398.5 122.6 L406.6 122.4 L414.7 122.1 L422.8 121.7 L431.0 121.2 L439.1 120.6 L447.2 120.0 L455.3 119.3 L463.4 118.6 L471.6 117.9 L479.7 117.1 L487.8 116.1 L495.9 115.0 L504.0 113.7 L512.1 112.3 L520.3 110.8 L528.4 109.0 L536.5 107.2" stroke="#A2142F" stroke-width="1.6" fill="none" stroke-linejoin="round"/>
</g>
<path d="M63.5 266.9V377.7M122.6 266.9V377.7M181.7 266.9V377.7M240.8 266.9V377.7M299.9 266.9V377.7M359.1 266.9V377.7M418.2 266.9V377.7M477.3 266.9V377.7M536.4 266.9V377.7M63.5 266.9H536.4M63.5 306.5H536.4M63.5 346.1H536.4" stroke="#e4e4e4" stroke-width="1" fill="none"/>
<clipPath id="cb"><rect x="59.5" y="262.9" width="480.9" height="118.8"/></clipPath>
<path d="M188.0 266.9V377.7" stroke="#ff0000" stroke-width="1.5" stroke-dasharray="13 6.6" fill="none"/>
<path d="M122.6 377.7v-4.8M122.6 266.9v4.8M181.7 377.7v-4.8M181.7 266.9v4.8M240.8 377.7v-4.8M240.8 266.9v4.8M299.9 377.7v-4.8M299.9 266.9v4.8M359.1 377.7v-4.8M359.1 266.9v4.8M418.2 377.7v-4.8M418.2 266.9v4.8M477.3 377.7v-4.8M477.3 266.9v4.8M63.5 306.5h4.8M536.4 306.5h-4.8M63.5 346.1h4.8M536.4 346.1h-4.8" stroke="#333333" stroke-width="1" fill="none"/><rect x="63.5" y="266.9" width="472.9" height="110.8" fill="none" stroke="#404040" stroke-width="1"/>
<g clip-path="url(#cb)">
<path d="M105.3 309.7l6.6 6.6m0 -6.6l-6.6 6.6M107.6 309.9l6.6 6.6m0 -6.6l-6.6 6.6M117.2 312.9l6.6 6.6m0 -6.6l-6.6 6.6M122.3 317.7l6.6 6.6m0 -6.6l-6.6 6.6M125.2 319.2l6.6 6.6m0 -6.6l-6.6 6.6M127.7 323.9l6.6 6.6m0 -6.6l-6.6 6.6M129.7 316.7l6.6 6.6m0 -6.6l-6.6 6.6M133.3 324.5l6.6 6.6m0 -6.6l-6.6 6.6M137.7 323.8l6.6 6.6m0 -6.6l-6.6 6.6M142.0 315.2l6.6 6.6m0 -6.6l-6.6 6.6M144.9 325.2l6.6 6.6m0 -6.6l-6.6 6.6M150.0 327.8l6.6 6.6m0 -6.6l-6.6 6.6M152.9 325.2l6.6 6.6m0 -6.6l-6.6 6.6M155.9 316.7l6.6 6.6m0 -6.6l-6.6 6.6M159.5 323.7l6.6 6.6m0 -6.6l-6.6 6.6M162.4 327.1l6.6 6.6m0 -6.6l-6.6 6.6M166.7 323.9l6.6 6.6m0 -6.6l-6.6 6.6M170.4 319.3l6.6 6.6m0 -6.6l-6.6 6.6M174.1 322.9l6.6 6.6m0 -6.6l-6.6 6.6M177.7 325.8l6.6 6.6m0 -6.6l-6.6 6.6M182.3 327.6l6.6 6.6m0 -6.6l-6.6 6.6M187.2 325.2l6.6 6.6m0 -6.6l-6.6 6.6M191.5 324.1l6.6 6.6m0 -6.6l-6.6 6.6M195.4 328.8l6.6 6.6m0 -6.6l-6.6 6.6M199.7 330.0l6.6 6.6m0 -6.6l-6.6 6.6M205.2 325.0l6.6 6.6m0 -6.6l-6.6 6.6M208.6 329.4l6.6 6.6m0 -6.6l-6.6 6.6M213.6 324.2l6.6 6.6m0 -6.6l-6.6 6.6M218.2 324.3l6.6 6.6m0 -6.6l-6.6 6.6M221.7 329.8l6.6 6.6m0 -6.6l-6.6 6.6M226.0 326.3l6.6 6.6m0 -6.6l-6.6 6.6M231.1 328.8l6.6 6.6m0 -6.6l-6.6 6.6M236.0 325.0l6.6 6.6m0 -6.6l-6.6 6.6M239.5 329.4l6.6 6.6m0 -6.6l-6.6 6.6M247.0 329.3l6.6 6.6m0 -6.6l-6.6 6.6M254.3 326.0l6.6 6.6m0 -6.6l-6.6 6.6M260.7 327.1l6.6 6.6m0 -6.6l-6.6 6.6M266.7 328.3l6.6 6.6m0 -6.6l-6.6 6.6M201.0 329.7l6.6 6.6m0 -6.6l-6.6 6.6M272.5 332.5l6.6 6.6m0 -6.6l-6.6 6.6M287.1 330.6l6.6 6.6m0 -6.6l-6.6 6.6M299.5 330.4l6.6 6.6m0 -6.6l-6.6 6.6M303.1 329.1l6.6 6.6m0 -6.6l-6.6 6.6M309.7 330.8l6.6 6.6m0 -6.6l-6.6 6.6M324.3 329.9l6.6 6.6m0 -6.6l-6.6 6.6M329.4 331.6l6.6 6.6m0 -6.6l-6.6 6.6M334.5 331.5l6.6 6.6m0 -6.6l-6.6 6.6M345.4 330.6l6.6 6.6m0 -6.6l-6.6 6.6M346.2 332.1l6.6 6.6m0 -6.6l-6.6 6.6M359.3 332.4l6.6 6.6m0 -6.6l-6.6 6.6M372.4 330.4l6.6 6.6m0 -6.6l-6.6 6.6M384.1 328.3l6.6 6.6m0 -6.6l-6.6 6.6M392.8 331.1l6.6 6.6m0 -6.6l-6.6 6.6M400.8 330.4l6.6 6.6m0 -6.6l-6.6 6.6M411.0 333.2l6.6 6.6m0 -6.6l-6.6 6.6M352.7 269.2l6.6 6.6m0 -6.6l-6.6 6.6M375.3 270.4l6.6 6.6m0 -6.6l-6.6 6.6M411.1 329.7l6.6 6.6m0 -6.6l-6.6 6.6M421.3 329.1l6.6 6.6m0 -6.6l-6.6 6.6M435.9 328.7l6.6 6.6m0 -6.6l-6.6 6.6M473.7 332.2l6.6 6.6m0 -6.6l-6.6 6.6M490.7 332.7l6.6 6.6m0 -6.6l-6.6 6.6M507.5 331.7l6.6 6.6m0 -6.6l-6.6 6.6M519.2 333.2l6.6 6.6m0 -6.6l-6.6 6.6M527.9 331.7l6.6 6.6m0 -6.6l-6.6 6.6M532.3 332.7l6.6 6.6m0 -6.6l-6.6 6.6M533.0 333.7l6.6 6.6m0 -6.6l-6.6 6.6M533.0 331.7l6.6 6.6m0 -6.6l-6.6 6.6" stroke="#0072BD" stroke-width="1.4" fill="none"/>
<path d="M63.5 317.8 L71.5 318.5 L79.5 319.2 L87.5 319.9 L95.6 320.5 L103.6 321.2 L111.6 321.8 L119.6 322.4 L127.6 323.0 L135.6 323.6 L143.7 324.2 L151.7 324.8 L159.7 325.4 L167.7 325.9 L175.7 326.3 L183.7 326.7 L191.7 327.1 L199.8 327.5 L207.8 327.8 L215.8 328.1 L223.8 328.3 L231.8 328.4 L239.8 328.5 L247.9 328.5 L255.9 328.5 L263.9 328.4 L271.9 328.3 L279.9 328.2 L287.9 328.2 L295.9 328.1 L304.0 327.9 L312.0 327.7 L320.0 327.4 L328.0 327.0 L336.0 326.7 L344.0 326.6 L352.0 326.5 L360.1 326.5 L368.1 326.6 L376.1 326.7 L384.1 326.8 L392.1 326.9 L400.1 327.1 L408.2 327.3 L416.2 327.5 L424.2 327.8 L432.2 328.4 L440.2 329.3 L448.2 330.3 L456.2 331.3 L464.3 332.3 L472.3 332.9 L480.3 333.3 L488.3 333.6 L496.3 333.9 L504.3 334.1 L512.4 334.3 L520.4 334.5 L528.4 334.6 L536.4 334.6" stroke="#0072BD" stroke-width="1.6" fill="none" stroke-linejoin="round"/>
<path d="M105.3 347.3l6.6 6.6m0 -6.6l-6.6 6.6M107.6 349.1l6.6 6.6m0 -6.6l-6.6 6.6M117.2 349.0l6.6 6.6m0 -6.6l-6.6 6.6M122.3 349.4l6.6 6.6m0 -6.6l-6.6 6.6M125.2 350.0l6.6 6.6m0 -6.6l-6.6 6.6M127.7 349.7l6.6 6.6m0 -6.6l-6.6 6.6M129.7 350.8l6.6 6.6m0 -6.6l-6.6 6.6M133.3 344.2l6.6 6.6m0 -6.6l-6.6 6.6M137.7 343.0l6.6 6.6m0 -6.6l-6.6 6.6M142.0 340.8l6.6 6.6m0 -6.6l-6.6 6.6M144.9 343.8l6.6 6.6m0 -6.6l-6.6 6.6M150.0 342.9l6.6 6.6m0 -6.6l-6.6 6.6M152.9 343.3l6.6 6.6m0 -6.6l-6.6 6.6M155.9 342.3l6.6 6.6m0 -6.6l-6.6 6.6M159.5 345.9l6.6 6.6m0 -6.6l-6.6 6.6M162.4 344.1l6.6 6.6m0 -6.6l-6.6 6.6M166.7 342.4l6.6 6.6m0 -6.6l-6.6 6.6M170.4 346.6l6.6 6.6m0 -6.6l-6.6 6.6M174.1 344.1l6.6 6.6m0 -6.6l-6.6 6.6M129.7 348.9l6.6 6.6m0 -6.6l-6.6 6.6M170.4 346.7l6.6 6.6m0 -6.6l-6.6 6.6M177.7 340.1l6.6 6.6m0 -6.6l-6.6 6.6M182.3 341.3l6.6 6.6m0 -6.6l-6.6 6.6M187.2 339.4l6.6 6.6m0 -6.6l-6.6 6.6M191.5 341.7l6.6 6.6m0 -6.6l-6.6 6.6M195.4 340.5l6.6 6.6m0 -6.6l-6.6 6.6M199.7 339.2l6.6 6.6m0 -6.6l-6.6 6.6M205.2 340.3l6.6 6.6m0 -6.6l-6.6 6.6M208.6 339.9l6.6 6.6m0 -6.6l-6.6 6.6M213.6 337.6l6.6 6.6m0 -6.6l-6.6 6.6M218.2 338.4l6.6 6.6m0 -6.6l-6.6 6.6M221.7 339.4l6.6 6.6m0 -6.6l-6.6 6.6M226.0 338.8l6.6 6.6m0 -6.6l-6.6 6.6M231.1 338.2l6.6 6.6m0 -6.6l-6.6 6.6M236.0 337.6l6.6 6.6m0 -6.6l-6.6 6.6M239.5 338.6l6.6 6.6m0 -6.6l-6.6 6.6M247.0 338.8l6.6 6.6m0 -6.6l-6.6 6.6M254.3 339.7l6.6 6.6m0 -6.6l-6.6 6.6M260.7 338.3l6.6 6.6m0 -6.6l-6.6 6.6M266.7 339.1l6.6 6.6m0 -6.6l-6.6 6.6M213.9 344.9l6.6 6.6m0 -6.6l-6.6 6.6M230.5 350.0l6.6 6.6m0 -6.6l-6.6 6.6M272.5 339.3l6.6 6.6m0 -6.6l-6.6 6.6M287.1 337.5l6.6 6.6m0 -6.6l-6.6 6.6M299.5 338.7l6.6 6.6m0 -6.6l-6.6 6.6M303.1 338.7l6.6 6.6m0 -6.6l-6.6 6.6M309.7 340.1l6.6 6.6m0 -6.6l-6.6 6.6M324.3 337.4l6.6 6.6m0 -6.6l-6.6 6.6M329.4 338.2l6.6 6.6m0 -6.6l-6.6 6.6M334.5 338.1l6.6 6.6m0 -6.6l-6.6 6.6M345.4 340.6l6.6 6.6m0 -6.6l-6.6 6.6M346.2 336.6l6.6 6.6m0 -6.6l-6.6 6.6M359.3 339.5l6.6 6.6m0 -6.6l-6.6 6.6M372.4 340.2l6.6 6.6m0 -6.6l-6.6 6.6M384.1 339.8l6.6 6.6m0 -6.6l-6.6 6.6M392.8 338.5l6.6 6.6m0 -6.6l-6.6 6.6M400.8 338.7l6.6 6.6m0 -6.6l-6.6 6.6M411.0 338.4l6.6 6.6m0 -6.6l-6.6 6.6M287.1 349.3l6.6 6.6m0 -6.6l-6.6 6.6M309.7 344.9l6.6 6.6m0 -6.6l-6.6 6.6M352.7 359.1l6.6 6.6m0 -6.6l-6.6 6.6M375.3 367.8l6.6 6.6m0 -6.6l-6.6 6.6M411.1 337.7l6.6 6.6m0 -6.6l-6.6 6.6M421.3 337.2l6.6 6.6m0 -6.6l-6.6 6.6M435.9 336.2l6.6 6.6m0 -6.6l-6.6 6.6M473.7 337.5l6.6 6.6m0 -6.6l-6.6 6.6M490.7 337.9l6.6 6.6m0 -6.6l-6.6 6.6M507.5 336.2l6.6 6.6m0 -6.6l-6.6 6.6M519.2 337.7l6.6 6.6m0 -6.6l-6.6 6.6M527.9 333.7l6.6 6.6m0 -6.6l-6.6 6.6M532.3 331.7l6.6 6.6m0 -6.6l-6.6 6.6M533.0 332.7l6.6 6.6m0 -6.6l-6.6 6.6M533.0 330.7l6.6 6.6m0 -6.6l-6.6 6.6" stroke="#D95319" stroke-width="1.4" fill="none"/>
<path d="M63.5 351.4 L71.5 350.8 L79.5 350.2 L87.5 349.6 L95.6 349.0 L103.6 348.5 L111.6 347.9 L119.6 347.4 L127.6 347.0 L135.6 346.5 L143.7 346.1 L151.7 345.7 L159.7 345.3 L167.7 344.9 L175.7 344.6 L183.7 344.2 L191.7 343.9 L199.8 343.7 L207.8 343.5 L215.8 343.3 L223.8 343.1 L231.8 342.9 L239.8 342.7 L247.9 342.6 L255.9 342.5 L263.9 342.4 L271.9 342.4 L279.9 342.5 L287.9 342.6 L295.9 342.7 L304.0 342.9 L312.0 343.2 L320.0 343.4 L328.0 343.5 L336.0 343.7 L344.0 343.8 L352.0 343.8 L360.1 343.8 L368.1 343.7 L376.1 343.6 L384.1 343.5 L392.1 343.4 L400.1 343.2 L408.2 343.0 L416.2 342.8 L424.2 342.5 L432.2 342.0 L440.2 341.3 L448.2 340.4 L456.2 339.5 L464.3 338.6 L472.3 337.9 L480.3 337.4 L488.3 337.0 L496.3 336.6 L504.3 336.2 L512.4 335.9 L520.4 335.6 L528.4 335.4 L536.4 335.2" stroke="#D95319" stroke-width="1.6" fill="none" stroke-linejoin="round"/>
<path d="M105.3 345.7l6.6 6.6m0 -6.6l-6.6 6.6M107.6 347.8l6.6 6.6m0 -6.6l-6.6 6.6M117.2 347.4l6.6 6.6m0 -6.6l-6.6 6.6M122.3 346.5l6.6 6.6m0 -6.6l-6.6 6.6M125.2 347.7l6.6 6.6m0 -6.6l-6.6 6.6M127.7 346.6l6.6 6.6m0 -6.6l-6.6 6.6M129.7 347.2l6.6 6.6m0 -6.6l-6.6 6.6M133.3 344.3l6.6 6.6m0 -6.6l-6.6 6.6M137.7 342.7l6.6 6.6m0 -6.6l-6.6 6.6M142.0 341.8l6.6 6.6m0 -6.6l-6.6 6.6M144.9 343.4l6.6 6.6m0 -6.6l-6.6 6.6M150.0 341.6l6.6 6.6m0 -6.6l-6.6 6.6M152.9 342.8l6.6 6.6m0 -6.6l-6.6 6.6M155.9 342.5l6.6 6.6m0 -6.6l-6.6 6.6M159.5 342.9l6.6 6.6m0 -6.6l-6.6 6.6M162.4 342.1l6.6 6.6m0 -6.6l-6.6 6.6M166.7 343.7l6.6 6.6m0 -6.6l-6.6 6.6M170.4 342.6l6.6 6.6m0 -6.6l-6.6 6.6M174.1 343.5l6.6 6.6m0 -6.6l-6.6 6.6M177.7 339.8l6.6 6.6m0 -6.6l-6.6 6.6M182.3 338.7l6.6 6.6m0 -6.6l-6.6 6.6M187.2 339.9l6.6 6.6m0 -6.6l-6.6 6.6M191.5 340.3l6.6 6.6m0 -6.6l-6.6 6.6M195.4 339.0l6.6 6.6m0 -6.6l-6.6 6.6M199.7 339.5l6.6 6.6m0 -6.6l-6.6 6.6M205.2 340.0l6.6 6.6m0 -6.6l-6.6 6.6M208.6 340.2l6.6 6.6m0 -6.6l-6.6 6.6M213.6 338.2l6.6 6.6m0 -6.6l-6.6 6.6M218.2 337.7l6.6 6.6m0 -6.6l-6.6 6.6M221.7 338.2l6.6 6.6m0 -6.6l-6.6 6.6M226.0 339.7l6.6 6.6m0 -6.6l-6.6 6.6M231.1 338.3l6.6 6.6m0 -6.6l-6.6 6.6M236.0 338.9l6.6 6.6m0 -6.6l-6.6 6.6M239.5 339.2l6.6 6.6m0 -6.6l-6.6 6.6M247.0 338.1l6.6 6.6m0 -6.6l-6.6 6.6M254.3 341.2l6.6 6.6m0 -6.6l-6.6 6.6M260.7 337.7l6.6 6.6m0 -6.6l-6.6 6.6M266.7 337.0l6.6 6.6m0 -6.6l-6.6 6.6M230.5 347.1l6.6 6.6m0 -6.6l-6.6 6.6M272.5 338.8l6.6 6.6m0 -6.6l-6.6 6.6M287.1 338.4l6.6 6.6m0 -6.6l-6.6 6.6M299.5 339.5l6.6 6.6m0 -6.6l-6.6 6.6M303.1 340.2l6.6 6.6m0 -6.6l-6.6 6.6M309.7 341.1l6.6 6.6m0 -6.6l-6.6 6.6M324.3 337.9l6.6 6.6m0 -6.6l-6.6 6.6M329.4 341.1l6.6 6.6m0 -6.6l-6.6 6.6M334.5 341.0l6.6 6.6m0 -6.6l-6.6 6.6M345.4 339.7l6.6 6.6m0 -6.6l-6.6 6.6M346.2 339.4l6.6 6.6m0 -6.6l-6.6 6.6M359.3 340.2l6.6 6.6m0 -6.6l-6.6 6.6M372.4 339.1l6.6 6.6m0 -6.6l-6.6 6.6M384.1 338.8l6.6 6.6m0 -6.6l-6.6 6.6M392.8 339.6l6.6 6.6m0 -6.6l-6.6 6.6M400.8 339.5l6.6 6.6m0 -6.6l-6.6 6.6M411.0 337.4l6.6 6.6m0 -6.6l-6.6 6.6M287.1 342.0l6.6 6.6m0 -6.6l-6.6 6.6M352.7 325.7l6.6 6.6m0 -6.6l-6.6 6.6M375.3 319.9l6.6 6.6m0 -6.6l-6.6 6.6M411.1 340.4l6.6 6.6m0 -6.6l-6.6 6.6M421.3 336.3l6.6 6.6m0 -6.6l-6.6 6.6M435.9 334.7l6.6 6.6m0 -6.6l-6.6 6.6M473.7 335.7l6.6 6.6m0 -6.6l-6.6 6.6M490.7 338.2l6.6 6.6m0 -6.6l-6.6 6.6M507.5 334.7l6.6 6.6m0 -6.6l-6.6 6.6M519.2 339.7l6.6 6.6m0 -6.6l-6.6 6.6M527.9 330.7l6.6 6.6m0 -6.6l-6.6 6.6M532.3 319.3l6.6 6.6m0 -6.6l-6.6 6.6M533.0 322.9l6.6 6.6m0 -6.6l-6.6 6.6M533.0 321.2l6.6 6.6m0 -6.6l-6.6 6.6M533.0 325.7l6.6 6.6m0 -6.6l-6.6 6.6" stroke="#EDB120" stroke-width="1.4" fill="none"/>
<path d="M63.5 350.7 L71.5 350.1 L79.5 349.5 L87.5 348.9 L95.6 348.3 L103.6 347.8 L111.6 347.2 L119.6 346.7 L127.6 346.3 L135.6 345.8 L143.7 345.4 L151.7 345.0 L159.7 344.6 L167.7 344.2 L175.7 343.9 L183.7 343.5 L191.7 343.3 L199.8 343.0 L207.8 342.8 L215.8 342.6 L223.8 342.4 L231.8 342.2 L239.8 342.1 L247.9 341.9 L255.9 341.8 L263.9 341.7 L271.9 341.6 L279.9 341.5 L287.9 341.4 L295.9 341.3 L304.0 341.3 L312.0 341.2 L320.0 341.2 L328.0 341.1 L336.0 341.0 L344.0 341.0 L352.0 340.9 L360.1 340.8 L368.1 340.7 L376.1 340.6 L384.1 340.5 L392.1 340.4 L400.1 340.2 L408.2 340.1 L416.2 339.9 L424.2 339.7 L432.2 339.2 L440.2 338.7 L448.2 338.1 L456.2 337.4 L464.3 336.8 L472.3 336.4 L480.3 336.1 L488.3 335.9 L496.3 335.6 L504.3 335.4 L512.4 335.3 L520.4 335.1 L528.4 335.0 L536.4 335.0" stroke="#EDB120" stroke-width="1.6" fill="none" stroke-linejoin="round"/>
<path d="M105.3 288.6l6.6 6.6m0 -6.6l-6.6 6.6M107.6 288.9l6.6 6.6m0 -6.6l-6.6 6.6M117.2 296.0l6.6 6.6m0 -6.6l-6.6 6.6M122.3 297.4l6.6 6.6m0 -6.6l-6.6 6.6M125.2 297.9l6.6 6.6m0 -6.6l-6.6 6.6M127.7 298.2l6.6 6.6m0 -6.6l-6.6 6.6M129.7 298.0l6.6 6.6m0 -6.6l-6.6 6.6M133.3 297.6l6.6 6.6m0 -6.6l-6.6 6.6M137.7 299.9l6.6 6.6m0 -6.6l-6.6 6.6M142.0 300.4l6.6 6.6m0 -6.6l-6.6 6.6M144.9 300.6l6.6 6.6m0 -6.6l-6.6 6.6M150.0 302.7l6.6 6.6m0 -6.6l-6.6 6.6M152.9 302.9l6.6 6.6m0 -6.6l-6.6 6.6M155.9 302.2l6.6 6.6m0 -6.6l-6.6 6.6M159.5 303.6l6.6 6.6m0 -6.6l-6.6 6.6M162.4 304.8l6.6 6.6m0 -6.6l-6.6 6.6M166.7 304.7l6.6 6.6m0 -6.6l-6.6 6.6M170.4 306.1l6.6 6.6m0 -6.6l-6.6 6.6M174.1 306.7l6.6 6.6m0 -6.6l-6.6 6.6M177.7 313.4l6.6 6.6m0 -6.6l-6.6 6.6M182.3 313.5l6.6 6.6m0 -6.6l-6.6 6.6M187.2 317.9l6.6 6.6m0 -6.6l-6.6 6.6M191.5 316.0l6.6 6.6m0 -6.6l-6.6 6.6M195.4 317.4l6.6 6.6m0 -6.6l-6.6 6.6M199.7 318.0l6.6 6.6m0 -6.6l-6.6 6.6M205.2 318.5l6.6 6.6m0 -6.6l-6.6 6.6M208.6 317.7l6.6 6.6m0 -6.6l-6.6 6.6M213.6 317.8l6.6 6.6m0 -6.6l-6.6 6.6M218.2 318.4l6.6 6.6m0 -6.6l-6.6 6.6M221.7 319.6l6.6 6.6m0 -6.6l-6.6 6.6M226.0 319.7l6.6 6.6m0 -6.6l-6.6 6.6M231.1 321.2l6.6 6.6m0 -6.6l-6.6 6.6M236.0 319.6l6.6 6.6m0 -6.6l-6.6 6.6M239.5 320.5l6.6 6.6m0 -6.6l-6.6 6.6M247.0 321.0l6.6 6.6m0 -6.6l-6.6 6.6M254.3 318.9l6.6 6.6m0 -6.6l-6.6 6.6M260.7 323.4l6.6 6.6m0 -6.6l-6.6 6.6M266.7 318.9l6.6 6.6m0 -6.6l-6.6 6.6M185.0 314.7l6.6 6.6m0 -6.6l-6.6 6.6M272.5 325.3l6.6 6.6m0 -6.6l-6.6 6.6M287.1 326.8l6.6 6.6m0 -6.6l-6.6 6.6M299.5 325.5l6.6 6.6m0 -6.6l-6.6 6.6M303.1 325.3l6.6 6.6m0 -6.6l-6.6 6.6M309.7 327.2l6.6 6.6m0 -6.6l-6.6 6.6M324.3 326.5l6.6 6.6m0 -6.6l-6.6 6.6M329.4 325.5l6.6 6.6m0 -6.6l-6.6 6.6M334.5 328.2l6.6 6.6m0 -6.6l-6.6 6.6M345.4 325.0l6.6 6.6m0 -6.6l-6.6 6.6M346.2 328.4l6.6 6.6m0 -6.6l-6.6 6.6M359.3 327.3l6.6 6.6m0 -6.6l-6.6 6.6M372.4 326.4l6.6 6.6m0 -6.6l-6.6 6.6M384.1 328.3l6.6 6.6m0 -6.6l-6.6 6.6M392.8 325.9l6.6 6.6m0 -6.6l-6.6 6.6M400.8 327.3l6.6 6.6m0 -6.6l-6.6 6.6M411.0 324.4l6.6 6.6m0 -6.6l-6.6 6.6M352.7 279.8l6.6 6.6m0 -6.6l-6.6 6.6M375.3 279.8l6.6 6.6m0 -6.6l-6.6 6.6M411.1 327.2l6.6 6.6m0 -6.6l-6.6 6.6M421.3 326.9l6.6 6.6m0 -6.6l-6.6 6.6M435.9 328.0l6.6 6.6m0 -6.6l-6.6 6.6M473.7 331.2l6.6 6.6m0 -6.6l-6.6 6.6M490.7 332.2l6.6 6.6m0 -6.6l-6.6 6.6M507.5 331.2l6.6 6.6m0 -6.6l-6.6 6.6M519.2 332.7l6.6 6.6m0 -6.6l-6.6 6.6M527.9 332.7l6.6 6.6m0 -6.6l-6.6 6.6M532.3 343.3l6.6 6.6m0 -6.6l-6.6 6.6M533.0 341.7l6.6 6.6m0 -6.6l-6.6 6.6M533.0 339.7l6.6 6.6m0 -6.6l-6.6 6.6M533.0 337.7l6.6 6.6m0 -6.6l-6.6 6.6" stroke="#7E2F8E" stroke-width="1.4" fill="none"/>
<path d="M63.5 288.7 L71.5 289.8 L79.5 291.2 L87.5 292.7 L95.6 294.4 L103.6 296.2 L111.6 298.2 L119.6 300.2 L127.6 302.5 L135.6 304.5 L143.7 306.1 L151.7 307.5 L159.7 308.8 L167.7 310.1 L175.7 311.2 L183.7 312.4 L191.7 313.6 L199.8 314.8 L207.8 316.0 L215.8 317.0 L223.8 318.1 L231.8 319.0 L239.8 320.0 L247.9 320.8 L255.9 321.6 L263.9 322.3 L271.9 322.8 L279.9 323.3 L287.9 323.8 L295.9 324.2 L304.0 324.5 L312.0 324.9 L320.0 325.2 L328.0 325.5 L336.0 325.8 L344.0 326.2 L352.0 326.4 L360.1 326.7 L368.1 326.9 L376.1 327.1 L384.1 327.3 L392.1 327.6 L400.1 327.8 L408.2 328.1 L416.2 328.4 L424.2 328.8 L432.2 329.4 L440.2 330.0 L448.2 330.7 L456.2 331.4 L464.3 332.0 L472.3 332.6 L480.3 332.9 L488.3 333.3 L496.3 333.6 L504.3 333.8 L512.4 334.1 L520.4 334.3 L528.4 334.4 L536.4 334.5" stroke="#7E2F8E" stroke-width="1.6" fill="none" stroke-linejoin="round"/>
<path d="M105.3 341.9l6.6 6.6m0 -6.6l-6.6 6.6M107.6 342.4l6.6 6.6m0 -6.6l-6.6 6.6M117.2 336.3l6.6 6.6m0 -6.6l-6.6 6.6M122.3 337.2l6.6 6.6m0 -6.6l-6.6 6.6M125.2 336.6l6.6 6.6m0 -6.6l-6.6 6.6M127.7 338.1l6.6 6.6m0 -6.6l-6.6 6.6M129.7 336.7l6.6 6.6m0 -6.6l-6.6 6.6M133.3 335.7l6.6 6.6m0 -6.6l-6.6 6.6M137.7 336.4l6.6 6.6m0 -6.6l-6.6 6.6M142.0 335.5l6.6 6.6m0 -6.6l-6.6 6.6M144.9 337.5l6.6 6.6m0 -6.6l-6.6 6.6M150.0 336.5l6.6 6.6m0 -6.6l-6.6 6.6M152.9 336.1l6.6 6.6m0 -6.6l-6.6 6.6M155.9 337.2l6.6 6.6m0 -6.6l-6.6 6.6M159.5 335.7l6.6 6.6m0 -6.6l-6.6 6.6M162.4 334.8l6.6 6.6m0 -6.6l-6.6 6.6M166.7 336.3l6.6 6.6m0 -6.6l-6.6 6.6M170.4 336.0l6.6 6.6m0 -6.6l-6.6 6.6M174.1 334.0l6.6 6.6m0 -6.6l-6.6 6.6M177.7 335.9l6.6 6.6m0 -6.6l-6.6 6.6M182.3 336.1l6.6 6.6m0 -6.6l-6.6 6.6M187.2 336.9l6.6 6.6m0 -6.6l-6.6 6.6M191.5 337.1l6.6 6.6m0 -6.6l-6.6 6.6M195.4 336.3l6.6 6.6m0 -6.6l-6.6 6.6M199.7 335.6l6.6 6.6m0 -6.6l-6.6 6.6M205.2 335.3l6.6 6.6m0 -6.6l-6.6 6.6M208.6 335.3l6.6 6.6m0 -6.6l-6.6 6.6M213.6 335.3l6.6 6.6m0 -6.6l-6.6 6.6M218.2 334.5l6.6 6.6m0 -6.6l-6.6 6.6M221.7 334.8l6.6 6.6m0 -6.6l-6.6 6.6M226.0 334.6l6.6 6.6m0 -6.6l-6.6 6.6M231.1 336.8l6.6 6.6m0 -6.6l-6.6 6.6M236.0 335.4l6.6 6.6m0 -6.6l-6.6 6.6M239.5 334.6l6.6 6.6m0 -6.6l-6.6 6.6M247.0 333.7l6.6 6.6m0 -6.6l-6.6 6.6M254.3 333.4l6.6 6.6m0 -6.6l-6.6 6.6M260.7 335.3l6.6 6.6m0 -6.6l-6.6 6.6M266.7 335.0l6.6 6.6m0 -6.6l-6.6 6.6M272.5 335.3l6.6 6.6m0 -6.6l-6.6 6.6M287.1 336.1l6.6 6.6m0 -6.6l-6.6 6.6M299.5 337.1l6.6 6.6m0 -6.6l-6.6 6.6M303.1 336.8l6.6 6.6m0 -6.6l-6.6 6.6M309.7 335.9l6.6 6.6m0 -6.6l-6.6 6.6M324.3 334.9l6.6 6.6m0 -6.6l-6.6 6.6M329.4 335.5l6.6 6.6m0 -6.6l-6.6 6.6M334.5 335.3l6.6 6.6m0 -6.6l-6.6 6.6M345.4 334.5l6.6 6.6m0 -6.6l-6.6 6.6M346.2 335.7l6.6 6.6m0 -6.6l-6.6 6.6M359.3 335.4l6.6 6.6m0 -6.6l-6.6 6.6M372.4 333.3l6.6 6.6m0 -6.6l-6.6 6.6M384.1 335.3l6.6 6.6m0 -6.6l-6.6 6.6M392.8 334.5l6.6 6.6m0 -6.6l-6.6 6.6M400.8 335.5l6.6 6.6m0 -6.6l-6.6 6.6M411.0 335.1l6.6 6.6m0 -6.6l-6.6 6.6M352.7 295.9l6.6 6.6m0 -6.6l-6.6 6.6M375.3 295.9l6.6 6.6m0 -6.6l-6.6 6.6M411.1 333.7l6.6 6.6m0 -6.6l-6.6 6.6M421.3 334.1l6.6 6.6m0 -6.6l-6.6 6.6M435.9 335.3l6.6 6.6m0 -6.6l-6.6 6.6M473.7 335.3l6.6 6.6m0 -6.6l-6.6 6.6M490.7 336.1l6.6 6.6m0 -6.6l-6.6 6.6M507.5 335.3l6.6 6.6m0 -6.6l-6.6 6.6M509.7 335.9l6.6 6.6m0 -6.6l-6.6 6.6M519.2 336.1l6.6 6.6m0 -6.6l-6.6 6.6M527.9 335.7l6.6 6.6m0 -6.6l-6.6 6.6M532.3 338.2l6.6 6.6m0 -6.6l-6.6 6.6M533.0 336.9l6.6 6.6m0 -6.6l-6.6 6.6M533.0 339.5l6.6 6.6m0 -6.6l-6.6 6.6M533.0 335.2l6.6 6.6m0 -6.6l-6.6 6.6" stroke="#77AC30" stroke-width="1.4" fill="none"/>
<path d="M63.5 343.4 L71.5 343.1 L79.5 342.8 L87.5 342.5 L95.6 342.2 L103.6 341.9 L111.6 341.6 L119.6 341.3 L127.6 341.0 L135.6 340.7 L143.7 340.4 L151.7 340.0 L159.7 339.6 L167.7 339.3 L175.7 338.9 L183.7 338.6 L191.7 338.3 L199.8 338.0 L207.8 337.8 L215.8 337.6 L223.8 337.4 L231.8 337.2 L239.8 337.0 L247.9 336.8 L255.9 336.7 L263.9 336.5 L271.9 336.2 L279.9 336.0 L287.9 335.7 L295.9 335.3 L304.0 334.9 L312.0 334.6 L320.0 334.3 L328.0 334.0 L336.0 333.8 L344.0 333.6 L352.0 333.6 L360.1 333.7 L368.1 333.8 L376.1 333.9 L384.1 334.1 L392.1 334.2 L400.1 334.4 L408.2 334.6 L416.2 334.7 L424.2 334.7 L432.2 334.8 L440.2 334.9 L448.2 334.9 L456.2 334.9 L464.3 335.0 L472.3 335.0 L480.3 335.0 L488.3 335.0 L496.3 335.0 L504.3 335.0 L512.4 334.9 L520.4 334.9 L528.4 334.9 L536.4 334.8" stroke="#77AC30" stroke-width="1.6" fill="none" stroke-linejoin="round"/>
<path d="M105.3 323.2l6.6 6.6m0 -6.6l-6.6 6.6M107.6 322.5l6.6 6.6m0 -6.6l-6.6 6.6M117.2 323.0l6.6 6.6m0 -6.6l-6.6 6.6M122.3 323.1l6.6 6.6m0 -6.6l-6.6 6.6M125.2 322.2l6.6 6.6m0 -6.6l-6.6 6.6M127.7 323.9l6.6 6.6m0 -6.6l-6.6 6.6M129.7 323.2l6.6 6.6m0 -6.6l-6.6 6.6M133.3 323.5l6.6 6.6m0 -6.6l-6.6 6.6M137.7 324.1l6.6 6.6m0 -6.6l-6.6 6.6M142.0 324.2l6.6 6.6m0 -6.6l-6.6 6.6M144.9 323.6l6.6 6.6m0 -6.6l-6.6 6.6M150.0 324.3l6.6 6.6m0 -6.6l-6.6 6.6M152.9 323.4l6.6 6.6m0 -6.6l-6.6 6.6M155.9 323.3l6.6 6.6m0 -6.6l-6.6 6.6M159.5 323.1l6.6 6.6m0 -6.6l-6.6 6.6M162.4 323.5l6.6 6.6m0 -6.6l-6.6 6.6M166.7 323.8l6.6 6.6m0 -6.6l-6.6 6.6M170.4 324.5l6.6 6.6m0 -6.6l-6.6 6.6M174.1 323.5l6.6 6.6m0 -6.6l-6.6 6.6M177.7 325.2l6.6 6.6m0 -6.6l-6.6 6.6M182.3 326.1l6.6 6.6m0 -6.6l-6.6 6.6M187.2 325.0l6.6 6.6m0 -6.6l-6.6 6.6M191.5 324.2l6.6 6.6m0 -6.6l-6.6 6.6M195.4 326.2l6.6 6.6m0 -6.6l-6.6 6.6M199.7 325.6l6.6 6.6m0 -6.6l-6.6 6.6M205.2 326.2l6.6 6.6m0 -6.6l-6.6 6.6M208.6 324.3l6.6 6.6m0 -6.6l-6.6 6.6M213.6 325.7l6.6 6.6m0 -6.6l-6.6 6.6M218.2 326.6l6.6 6.6m0 -6.6l-6.6 6.6M221.7 325.5l6.6 6.6m0 -6.6l-6.6 6.6M226.0 324.4l6.6 6.6m0 -6.6l-6.6 6.6M231.1 325.5l6.6 6.6m0 -6.6l-6.6 6.6M236.0 326.0l6.6 6.6m0 -6.6l-6.6 6.6M239.5 325.3l6.6 6.6m0 -6.6l-6.6 6.6M247.0 325.8l6.6 6.6m0 -6.6l-6.6 6.6M254.3 324.8l6.6 6.6m0 -6.6l-6.6 6.6M260.7 325.7l6.6 6.6m0 -6.6l-6.6 6.6M266.7 325.2l6.6 6.6m0 -6.6l-6.6 6.6M272.5 325.3l6.6 6.6m0 -6.6l-6.6 6.6M287.1 326.4l6.6 6.6m0 -6.6l-6.6 6.6M299.5 325.3l6.6 6.6m0 -6.6l-6.6 6.6M303.1 325.8l6.6 6.6m0 -6.6l-6.6 6.6M309.7 327.4l6.6 6.6m0 -6.6l-6.6 6.6M324.3 326.7l6.6 6.6m0 -6.6l-6.6 6.6M329.4 326.3l6.6 6.6m0 -6.6l-6.6 6.6M334.5 326.1l6.6 6.6m0 -6.6l-6.6 6.6M345.4 327.0l6.6 6.6m0 -6.6l-6.6 6.6M346.2 328.2l6.6 6.6m0 -6.6l-6.6 6.6M359.3 325.9l6.6 6.6m0 -6.6l-6.6 6.6M372.4 325.9l6.6 6.6m0 -6.6l-6.6 6.6M384.1 326.0l6.6 6.6m0 -6.6l-6.6 6.6M392.8 326.1l6.6 6.6m0 -6.6l-6.6 6.6M400.8 326.7l6.6 6.6m0 -6.6l-6.6 6.6M411.0 327.4l6.6 6.6m0 -6.6l-6.6 6.6M352.7 288.6l6.6 6.6m0 -6.6l-6.6 6.6M375.3 286.4l6.6 6.6m0 -6.6l-6.6 6.6M411.1 325.9l6.6 6.6m0 -6.6l-6.6 6.6M421.3 325.3l6.6 6.6m0 -6.6l-6.6 6.6M435.9 325.1l6.6 6.6m0 -6.6l-6.6 6.6M473.7 329.5l6.6 6.6m0 -6.6l-6.6 6.6M490.7 330.2l6.6 6.6m0 -6.6l-6.6 6.6M507.5 328.0l6.6 6.6m0 -6.6l-6.6 6.6M509.7 328.9l6.6 6.6m0 -6.6l-6.6 6.6M519.2 331.0l6.6 6.6m0 -6.6l-6.6 6.6M527.9 329.2l6.6 6.6m0 -6.6l-6.6 6.6M532.3 329.5l6.6 6.6m0 -6.6l-6.6 6.6M533.0 330.5l6.6 6.6m0 -6.6l-6.6 6.6M533.0 328.5l6.6 6.6m0 -6.6l-6.6 6.6M533.0 331.7l6.6 6.6m0 -6.6l-6.6 6.6" stroke="#A2142F" stroke-width="1.4" fill="none"/>
<path d="M63.5 326.8 L71.5 326.8 L79.5 326.8 L87.5 326.8 L95.6 326.8 L103.6 326.8 L111.6 326.8 L119.6 326.9 L127.6 326.9 L135.6 326.9 L143.7 326.9 L151.7 327.0 L159.7 327.1 L167.7 327.2 L175.7 327.3 L183.7 327.4 L191.7 327.5 L199.8 327.5 L207.8 327.5 L215.8 327.5 L223.8 327.5 L231.8 327.4 L239.8 327.4 L247.9 327.1 L255.9 326.6 L263.9 326.0 L271.9 325.5 L279.9 325.1 L287.9 324.8 L295.9 324.5 L304.0 324.3 L312.0 324.0 L320.0 323.8 L328.0 323.5 L336.0 323.3 L344.0 323.2 L352.0 323.2 L360.1 323.3 L368.1 323.4 L376.1 323.6 L384.1 323.9 L392.1 324.2 L400.1 324.6 L408.2 324.9 L416.2 325.3 L424.2 325.7 L432.2 326.2 L440.2 326.8 L448.2 327.5 L456.2 328.2 L464.3 328.9 L472.3 329.5 L480.3 330.1 L488.3 330.7 L496.3 331.3 L504.3 331.8 L512.4 332.4 L520.4 332.9 L528.4 333.5 L536.4 334.0" stroke="#A2142F" stroke-width="1.6" fill="none" stroke-linejoin="round"/>
</g>
<text transform="translate(57.5 194.2) scale(1.12 1)" text-anchor="middle">0</text>
<text transform="translate(153.3 194.2) scale(1.12 1)" text-anchor="middle">0.1</text>
<text transform="translate(249.1 194.2) scale(1.12 1)" text-anchor="middle">0.2</text>
<text transform="translate(344.9 194.2) scale(1.12 1)" text-anchor="middle">0.3</text>
<text transform="translate(440.7 194.2) scale(1.12 1)" text-anchor="middle">0.4</text>
<text transform="translate(536.5 194.2) scale(1.12 1)" text-anchor="middle">0.5</text>
<text transform="translate(50.9 65.4) scale(1.12 1)" text-anchor="end">0</text>
<text transform="translate(50.9 105.6) scale(1.12 1)" text-anchor="end">5</text>
<text transform="translate(42.1 105.6) scale(1.45 1)" text-anchor="end">−</text>
<text transform="translate(50.9 145.8) scale(1.12 1)" text-anchor="end">10</text>
<text transform="translate(33.9 145.8) scale(1.45 1)" text-anchor="end">−</text>
<text transform="translate(63.5 398.6) scale(1.12 1)" text-anchor="middle">0.1</text>
<text transform="translate(122.6 398.6) scale(1.12 1)" text-anchor="middle">0.15</text>
<text transform="translate(181.7 398.6) scale(1.12 1)" text-anchor="middle">0.2</text>
<text transform="translate(240.8 398.6) scale(1.12 1)" text-anchor="middle">0.25</text>
<text transform="translate(299.9 398.6) scale(1.12 1)" text-anchor="middle">0.3</text>
<text transform="translate(359.1 398.6) scale(1.12 1)" text-anchor="middle">0.35</text>
<text transform="translate(418.2 398.6) scale(1.12 1)" text-anchor="middle">0.4</text>
<text transform="translate(477.3 398.6) scale(1.12 1)" text-anchor="middle">0.45</text>
<text transform="translate(536.4 398.6) scale(1.12 1)" text-anchor="middle">0.5</text>
<text transform="translate(56.9 271.8) scale(1.12 1)" text-anchor="end">0</text>
<text transform="translate(56.9 311.4) scale(1.12 1)" text-anchor="end">5</text>
<text transform="translate(48.1 311.4) scale(1.45 1)" text-anchor="end">−</text>
<text transform="translate(56.9 351.0) scale(1.12 1)" text-anchor="end">10</text>
<text transform="translate(39.9 351.0) scale(1.45 1)" text-anchor="end">−</text>
<text transform="translate(17.8 118.3) rotate(-90) scale(1.17 1)" text-anchor="middle" font-size="17.2">log<tspan font-size="11.5" dy="2.6">10</tspan><tspan dy="-2.6">(</tspan><tspan font-style="italic">Q</tspan>)</text>
<text transform="translate(17.8 324.0) rotate(-90) scale(1.17 1)" text-anchor="middle" font-size="17.2">log<tspan font-size="11.5" dy="2.6">10</tspan><tspan dy="-2.6">(</tspan><tspan font-style="italic">Q</tspan>)</text>
<text transform="translate(281.8 216.4) scale(1.25 1)" font-size="18.4" font-style="italic">J</text><text transform="translate(290.8 219.4) scale(1.13 1)" font-size="11.5">NIS</text>
<text transform="translate(279.2 420.4) scale(1.25 1)" font-size="18.4" font-style="italic">J</text><text transform="translate(288.2 423.4) scale(1.13 1)" font-size="11.5">NEES</text>
<text x="279" y="241.7" text-anchor="middle" font-size="13.2" font-weight="bold" fill="#111">(a)</text>
<text x="281" y="448.1" text-anchor="middle" font-size="13.2" font-weight="bold" fill="#111">(b)</text>
</g></svg></body></html>
